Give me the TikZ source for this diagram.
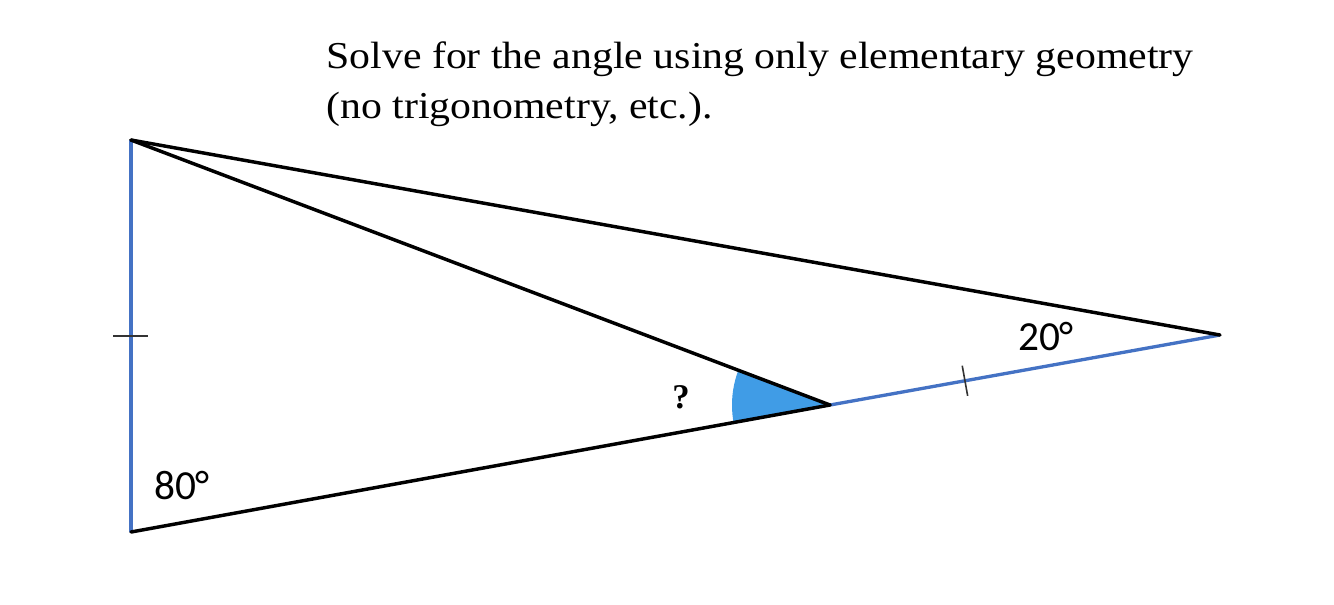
\documentclass[tikz,border=0pt]{standalone}
\usepackage{fontspec}
\setmainfont{Liberation Serif}
\newfontfamily\labelfont{Carlito}
\usetikzlibrary{calc}

\definecolor{sideblue}{RGB}{68,114,196}
\definecolor{angleblue}{RGB}{64,156,230}

\tikzset{every picture/.style={line width=2.2pt}}
\tikzset{
  blackside/.style={draw=black,line width=2.6pt,line cap=round},
  blueside/.style={draw=sideblue,line width=2.5pt},
  tickmark/.style={draw=black!80,line width=1.2pt},
  anglelabel/.style={inner sep=0.75pt,font=\labelfont\fontsize{31}{36}\selectfont},
  titleline/.style={anchor=base west,inner sep=0pt,font=\fontsize{28.5}{36}\selectfont},
}

\begin{document}
\begin{tikzpicture}[x=0.75pt,y=0.75pt,yscale=-1,xscale=1]
	\useasboundingbox (0,0) rectangle (1334,604);
	
	% Points
	\coordinate (A) at (131,140);
	\coordinate (B) at (131,532);
	\coordinate (C) at (1220,335);
	\coordinate (D) at (830,405);
	
	%Shape: Sector at D
	\begin{scope}
		\clip (D) -- (A) -- (B) -- cycle;
		\fill[angleblue] (D) circle [radius=98];
	\end{scope}
	
	%Straight Lines (blue sides)
	\draw[blueside] (A) -- (B) ;
	\draw[blueside] (D) -- (C) ;
	%Straight Lines (black sides)
	\draw[blackside] (A) -- (C) ;
	\draw[blackside] (A) -- (D) ;
	\draw[blackside] (B) -- (D) ;
	
	% Tick marks
	\coordinate (mAB) at ($(A)!0.5!(B)$);
	\coordinate (tAB1) at ($(mAB)+(-18,0)$);
	\coordinate (tAB2) at ($(mAB)+(17,0)$);
	\draw[tickmark] (tAB1) -- (tAB2) ;
	\coordinate (mDC) at ($(D)!0.346!(C)$);
	\coordinate (tDC1) at ($(mDC)!11.5pt!90:(C)$);
	\coordinate (tDC2) at ($(mDC)!11.5pt!-90:(C)$);
	\draw[tickmark] (tDC1) -- (tDC2) ;
	
	% Text Node
	\draw (325,68) node [titleline] (title1) {\scalebox{1.1}[1]{Solve for the angle using only elementary geometry}};
	% Text Node
	\draw (325,118) node [titleline] (title2) {\scalebox{1.1}[1]{(no trigonometry, etc.).}};
	% Text Node
	\draw (182,486) node [anglelabel] (lab80) {80°};
	% Text Node
	\draw (1046,337) node [anglelabel] (lab20) {20°};
	% Text Node
	\draw (681,397) node [inner sep=0.75pt, font=\bfseries\fontsize{26}{30}\selectfont] (labq) {?};
	
\end{tikzpicture}
\end{document}
